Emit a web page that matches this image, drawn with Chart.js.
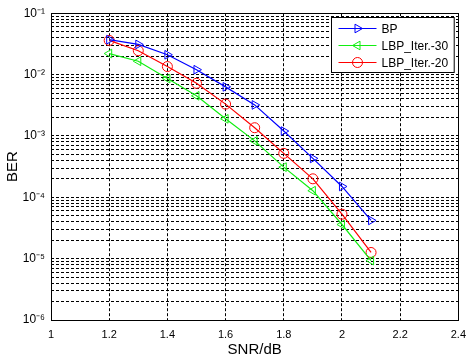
<!DOCTYPE html>
<html><head><meta charset="utf-8">
<script src="https://cdn.jsdelivr.net/npm/chart.js@4.4.1/dist/chart.umd.min.js"></script>
<style>html,body{margin:0;padding:0;background:#fff}#wrap{width:474px;height:363px}</style>
</head><body><div id="wrap"><canvas id="c" width="474" height="363"></canvas></div>
<script>
const snr = [1.2, 1.3, 1.4, 1.5, 1.6, 1.7, 1.8, 1.9, 2.0, 2.1];
const bp = [0.037, 0.031, 0.021, 0.012, 0.0063, 0.0032, 0.0012, 0.00043, 0.00015, 0.000042];
const lbp30 = [0.022, 0.0165, 0.0086, 0.0045, 0.0019, 0.00083, 0.00031, 0.000128, 0.000036, 0.0000093];
const lbp20 = [0.036, 0.0245, 0.0135, 0.0072, 0.0033, 0.00136, 0.00052, 0.0002, 0.000053, 0.0000126];
const seriesNames = ['BP', 'LBP_Iter.-30', 'LBP_Iter.-20'];
const xTicks = [1, 1.2, 1.4, 1.6, 1.8, 2, 2.2, 2.4];
const yDecades = [-6, -5, -4, -3, -2, -1];
const yTickLabels = ['10\u207B\u2076', '10\u207B\u2075', '10\u207B\u2074', '10\u207B\u00B3', '10\u207B\u00B2', '10\u207B\u00B9'];

const font = "'Liberation Sans', Arial, sans-serif";
const gridCol = '#000';

function pts(arr){ return snr.map((x,i)=>({x:x, y:arr[i]})); }

const boxPlugin = {
  id: 'box',
  afterDraw(chart){
    const {ctx, chartArea:a} = chart;
    ctx.save();
    ctx.strokeStyle = '#000'; ctx.lineWidth = 1; ctx.setLineDash([]);
    ctx.strokeRect(Math.round(a.left)+0.5, Math.round(a.top)+0.5, Math.round(a.right-a.left), Math.round(a.bottom-a.top));
    // legend
    ctx.font = '12px ' + font;
    const ds = chart.data.datasets;
    let tw = 0; ds.forEach(d=>{tw=Math.max(tw, ctx.measureText(d.label).width);});
    const w = 50 + tw + 6, h = 55;
    const x0 = Math.round(a.right - 5 - w) + 0.5, y0 = Math.round(a.top + 4) + 0.5;
    ctx.fillStyle = '#fff'; ctx.fillRect(x0, y0, w, h);
    ctx.strokeStyle = '#000'; ctx.strokeRect(x0, y0, w, h);
    ds.forEach((d,i)=>{
      const yy = y0 + 11 + i*17;
      ctx.strokeStyle = d.borderColor; ctx.lineWidth = 1;
      ctx.beginPath(); ctx.moveTo(x0+7, yy); ctx.lineTo(x0+45, yy); ctx.stroke();
      const cx = x0+26, r = 5;
      ctx.beginPath();
      if (d.pointStyle === 'circle') { ctx.arc(cx, yy, r, 0, Math.PI*2); }
      else {
        const rot = (d.pointRotation||0) * Math.PI/180;
        for (let k=0;k<3;k++){
          const ang = rot - Math.PI/2 + k*2*Math.PI/3;
          const px = cx + r*Math.cos(ang), py = yy + r*Math.sin(ang);
          if(k===0) ctx.moveTo(px,py); else ctx.lineTo(px,py);
        }
        ctx.closePath();
      }
      ctx.stroke();
      ctx.fillStyle = '#000'; ctx.textBaseline = 'middle'; ctx.textAlign = 'left';
      ctx.fillText(d.label, x0+50, yy+1);
    });
    ctx.restore();
  }
};

function mk(label, data, color, style, rot){
  return {label, data: pts(data), borderColor: color, backgroundColor: 'rgba(0,0,0,0)',
    borderWidth: 1.2, pointStyle: style, pointRotation: rot, pointRadius: 5,
    pointBorderWidth: 1, pointBorderColor: color, pointBackgroundColor: 'rgba(0,0,0,0)', tension: 0};
}

new Chart(document.getElementById('c'), {
  type: 'line',
  data: { datasets: [
    mk(seriesNames[0], bp, '#0000ff', 'triangle', 90),
    mk(seriesNames[1], lbp30, '#11ee11', 'triangle', -90),
    mk(seriesNames[2], lbp20, '#ff0000', 'circle', 0)
  ]},
  options: {
    responsive: false, animation: false, devicePixelRatio: 1,
    layout: { padding: { top: 13, right: 8, left: 0, bottom: 0 } },
    plugins: { legend: { display: false }, tooltip: { enabled: false } },
    scales: {
      x: {
        type: 'linear', min: 1, max: 2.4,
        afterBuildTicks(s){ s.ticks = xTicks.map(v=>({value:v})); },
        afterFit(s){ s.height = 43; },
        ticks: { autoSkip: false, maxRotation: 0, padding: 8, color: '#000', font: { family: font, size: 11 },
          callback: v => String(Math.round(v*10)/10) },
        grid: { color: gridCol, lineWidth: 1, drawTicks: false },
        border: { display: false, dash: [3,2] },
        title: { display: true, text: 'SNR/dB', color: '#000', font: { family: font, size: 15 }, padding: { top: 10 } }
      },
      y: {
        type: 'logarithmic', min: 1e-6, max: 1e-1,
        afterBuildTicks(s){
          const t = [];
          yDecades.forEach(e=>{
            if (e === -1) { t.push({value: Math.pow(10,e)}); return; }
            for (let k=1;k<=9;k++) t.push({value: parseFloat((k*Math.pow(10,e)).toPrecision(3))});
          });
          s.ticks = t;
        },
        afterFit(s){ s.width = 51; },
        ticks: { autoSkip: false, padding: 6, color: '#000', font: { family: font, size: 12 },
          callback: function(v){
            const e = Math.round(Math.log10(v));
            if (Math.abs(Math.log10(v) - e) < 1e-6) { const i = yDecades.indexOf(e); return i>=0 ? yTickLabels[i] : ''; }
            return '';
          } },
        grid: { color: gridCol, lineWidth: 1, drawTicks: false },
        border: { display: false, dash: [3,2] },
        title: { display: true, text: 'BER', color: '#000', font: { family: font, size: 15 }, padding: { bottom: 0 } }
      }
    }
  },
  plugins: [boxPlugin]
});
</script></body></html>
